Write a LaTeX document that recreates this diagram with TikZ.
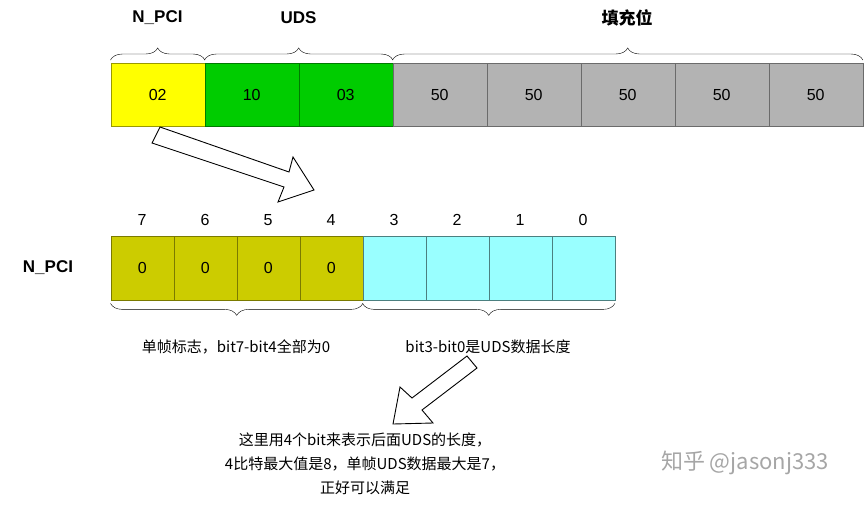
\documentclass[tikz,border=0pt]{standalone}
\usepackage{fontspec}
\setmainfont{Liberation Sans}
\newfontfamily\cjk{Noto Sans CJK SC}
\usetikzlibrary{decorations.pathreplacing}
\definecolor{cyel}{HTML}{FFFF00}
\definecolor{cgrn}{HTML}{00CC00}
\definecolor{cgry}{HTML}{B3B3B3}
\definecolor{colv}{HTML}{CCCC00}
\definecolor{ccyn}{HTML}{99FFFF}
\tikzset{
 cellbox/.style={draw=#1!60!black, minimum width=94pt, minimum height=63pt, inner sep=0pt, font=\fontsize{16}{18}\selectfont, anchor=north west},
 bitbox/.style={draw=#1!60!black, minimum width=63pt, minimum height=64pt, inner sep=0pt, font=\fontsize{16}{18}\selectfont, anchor=north west},
 brc/.style={decorate, decoration={brace, amplitude=12pt}, thin},
 lab/.style={font=\bfseries\fontsize{17}{19}\selectfont},
 txt/.style={font=\cjk\fontsize{15}{24}\selectfont, align=center},
 hollow/.style={draw, fill=white, line width=0.9pt, line join=miter}
}
\begin{document}
\begin{tikzpicture}[x=1pt,y=-1pt]
\useasboundingbox (0,0) rectangle (866,504);
% top row
\node[cellbox=cyel, fill=cyel] (t1) at (110.5,63) {02};
\node[cellbox=cgrn, fill=cgrn] (t2) at (204.5,63) {10};
\node[cellbox=cgrn, fill=cgrn] (t3) at (298.5,63) {03};
\foreach \i/\x in {4/392.5,5/486.5,6/580.5,7/674.5,8/768.5}
  \node[cellbox=cgry, fill=cgry] (t\i) at (\x,63) {50};
\draw[brc] ([yshift=3pt]t1.north west) -- ([yshift=3pt]t1.north east);
\draw[brc] ([yshift=3pt]t2.north west) -- ([yshift=3pt]t3.north east);
\draw[brc] ([yshift=3pt]t4.north west) -- ([yshift=3pt]t8.north east);
\node[lab] (l1) at (157.5,18) {N\_PCI};
\node[lab] (l2) at (298.5,18) {UDS};
\node[lab] (l3) at (627,18) {\cjk\bfseries 填充位};
% arrow 1
\draw[hollow] (160,127) -- (289,172) -- (293,157) -- (314,190) -- (278,202) -- (284,187) -- (152,143) -- cycle;
% bit row
\node[lab] (np) at (48,268) {N\_PCI};
\foreach \i/\x/\b in {1/110.5/7,2/173.5/6,3/236.5/5,4/299.5/4}{
  \node[bitbox=colv, fill=colv] (b\i) at (\x,236) {0};
  \node[font=\fontsize{16}{18}\selectfont] (n\i) at (\x+31.5,220) {\b};}
\foreach \i/\x/\b in {5/362.5/3,6/425.5/2,7/488.5/1,8/551.5/0}{
  \node[bitbox=ccyn, draw=ccyn!50!black, fill=ccyn] (b\i) at (\x,236) {};
  \node[font=\fontsize{16}{18}\selectfont] (n\i) at (\x+31.5,220) {\b};}
\draw[brc] ([yshift=-3pt]b4.south east) -- ([yshift=-3pt]b1.south west);
\draw[brc] ([yshift=-3pt]b8.south east) -- ([yshift=-3pt]b5.south west);
\node[txt] (d1) at (236,347) {单帧标志，bit7-bit4全部为0};
\node[txt] (d2) at (488,347) {bit3-bit0是UDS数据长度};
% arrow 2
\draw[hollow] (467,356) -- (477,368) -- (422,410) -- (433,423) -- (393,424) -- (400,387) -- (412,398) -- cycle;
\node[txt] (note) at (365,464) {这里用4个bit来表示后面UDS的长度，\\4比特最大值是8，单帧UDS数据最大是7，\\正好可以满足};
\node[font=\cjk\fontsize{22}{24}\selectfont, text=black!35] (wm) at (745,463) {知乎 @jasonj333};
\end{tikzpicture}
\end{document}
